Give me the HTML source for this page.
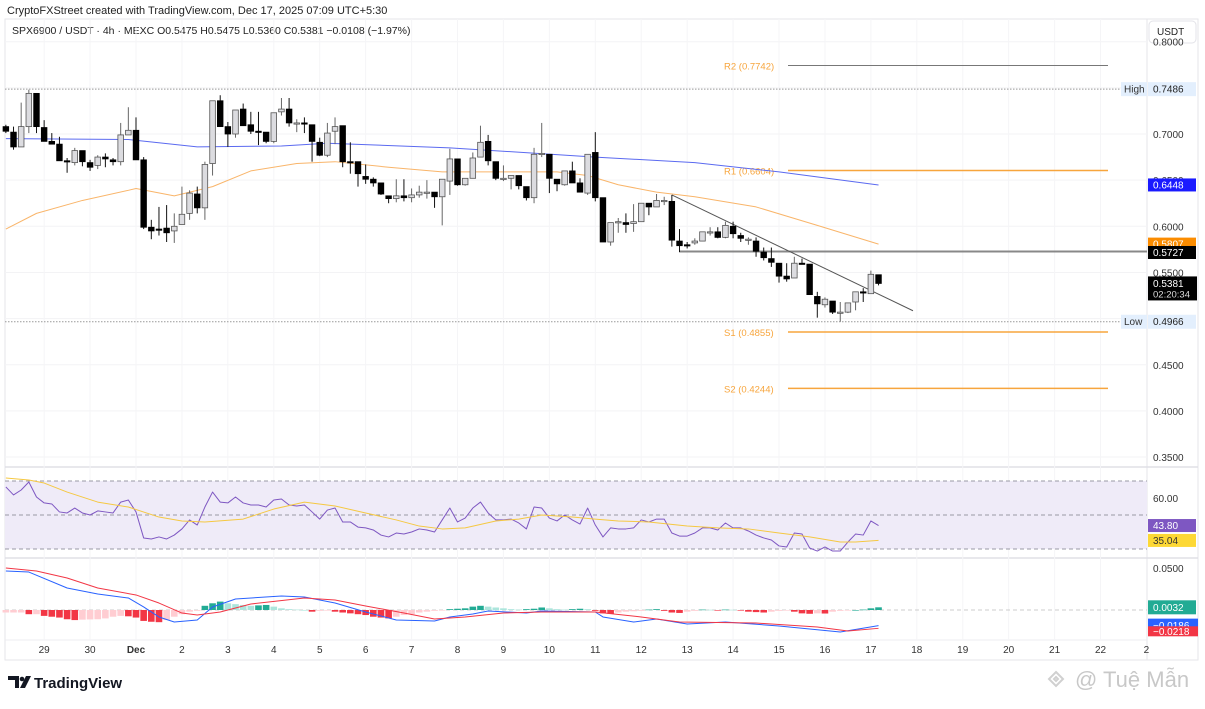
<!DOCTYPE html>
<html><head><meta charset="utf-8">
<style>
html,body{margin:0;padding:0;background:#fff;}
body{width:1205px;height:704px;overflow:hidden;font-family:"Liberation Sans",sans-serif;}
svg text{font-family:"Liberation Sans",sans-serif;}
</style></head>
<body>
<svg id="chart" width="1205" height="704" viewBox="0 0 1205 704" xmlns="http://www.w3.org/2000/svg">
  <text x="7" y="14" font-size="11" fill="#222">CryptoFXStreet created with TradingView.com, Dec 17, 2025 07:09 UTC+5:30</text>
  <rect x="5" y="19" width="1193" height="641" fill="none" stroke="#e6e6ea" stroke-width="1"/>
  <text x="12" y="34" font-size="10.5" fill="#222">SPX6900 / USDT · 4h · MEXC  O0.5475  H0.5475  L0.5360  C0.5381  −0.0108 (−1.97%)</text>
  <rect x="1149" y="21" width="47" height="22" rx="4" fill="#fff" stroke="#e3e3e8"/>
  <text x="1157" y="35" font-size="10" fill="#222">USDT</text>
  <line x1="1147" y1="19" x2="1147" y2="660" stroke="#e6e6ea"/>
  <line x1="5" y1="467" x2="1198" y2="467" stroke="#e0e0e6" stroke-width="1.5"/>
  <line x1="5" y1="558" x2="1198" y2="558" stroke="#e0e0e6" stroke-width="1.5"/>
  <line x1="5" y1="640" x2="1147" y2="640" stroke="#ececf0"/>
  <g id="grid"></g>
  <g id="levels"></g>
  <g id="ma"></g>
  <g id="candles"></g>
  <g id="rsi"></g>
  <g id="macd"></g>
  <g id="axes"></g>
  <g>
    <path d="M8 676 h11 v12 h-4 v-8 h-7 z" fill="#131722"/>
    <circle cx="22" cy="679" r="2.3" fill="#131722"/>
    <path d="M26 676 h5 l-6 12 h-5 z" fill="#131722"/>
    <text x="34" y="688" font-size="15" font-weight="bold" fill="#131722">TradingView</text>
  </g>
  <text x="1075" y="687" font-size="22" fill="#c8c8c8">@ Tuệ Mẫn</text>
  <g fill="none" stroke="#d0d0d0" stroke-width="2">
    <path d="M1056 672 l7 7 -7 7 -7 -7 z"/>
    <path d="M1056 677 l2 2 -2 2 -2 -2 z"/>
  </g>
</svg>
<script>
const NS='http://www.w3.org/2000/svg';
// ===== data =====
const opens=[.708,.702,.686,.708,.744,.707,.692,.689,.671,.669,.682,.669,.666,.675,.672,.670,.699,.704,.672,.599,.597,.598,.595,.602,.614,.635,.620,.668,.736,.708,.700,.727,.710,.703,.702,.692,.724,.727,.712,.712,.710,.691,.677,.703,.709,.670,.670,.654,.651,.647,.633,.630,.633,.631,.634,.637,.637,.632,.649,.673,.645,.652,.675,.692,.670,.652,.652,.655,.643,.631,.679,.678,.651,.645,.660,.647,.636,.680,.631,.583,.605,.604,.603,.605,.625,.621,.628,.627,.584,.580,.582,.584,.594,.594,.588,.600,.590,.586,.584,.572,.565,.560,.546,.544,.560,.559,.524,.515,.519,.507,.507,.518,.529,.527,.5475];
const highs=[.710,.708,.734,.748,.744,.715,.701,.697,.674,.685,.682,.672,.677,.679,.674,.712,.729,.718,.675,.607,.621,.623,.614,.643,.639,.643,.670,.736,.742,.713,.726,.733,.724,.724,.702,.723,.739,.739,.716,.718,.710,.696,.712,.718,.709,.691,.670,.667,.653,.647,.633,.651,.651,.641,.644,.650,.637,.651,.684,.673,.652,.680,.709,.699,.670,.666,.655,.655,.643,.685,.712,.678,.651,.660,.670,.652,.678,.702,.631,.604,.609,.614,.624,.625,.625,.635,.632,.634,.597,.583,.587,.594,.599,.599,.605,.605,.593,.588,.588,.577,.577,.560,.560,.567,.565,.559,.529,.523,.519,.518,.517,.529,.533,.552,.5475];
const lows=[.701,.683,.686,.701,.701,.692,.689,.671,.658,.666,.665,.660,.662,.664,.666,.666,.699,.672,.597,.586,.590,.583,.582,.602,.607,.614,.607,.655,.708,.686,.696,.709,.700,.688,.690,.690,.720,.708,.702,.701,.670,.676,.675,.689,.664,.657,.643,.646,.643,.634,.625,.626,.627,.626,.631,.630,.620,.601,.634,.644,.644,.652,.675,.666,.650,.649,.640,.640,.628,.625,.675,.636,.638,.644,.647,.637,.634,.627,.583,.579,.593,.593,.594,.605,.612,.621,.623,.578,.572,.576,.580,.584,.590,.587,.587,.587,.583,.580,.567,.563,.556,.539,.540,.544,.559,.526,.501,.512,.505,.4966,.506,.509,.518,.527,.536];
const closes=[.703,.686,.708,.744,.708,.692,.689,.671,.670,.682,.670,.664,.675,.673,.670,.699,.704,.672,.599,.595,.596,.593,.600,.613,.636,.620,.667,.736,.708,.700,.726,.709,.703,.702,.692,.723,.727,.712,.712,.711,.692,.677,.701,.708,.670,.669,.657,.651,.647,.635,.630,.633,.631,.634,.637,.637,.632,.651,.673,.645,.652,.674,.691,.671,.652,.652,.655,.644,.631,.678,.679,.652,.646,.660,.647,.637,.678,.631,.583,.604,.605,.602,.605,.625,.621,.628,.628,.585,.579,.579,.584,.594,.594,.588,.601,.592,.587,.586,.573,.566,.561,.546,.543,.560,.559,.526,.516,.521,.507,.507,.517,.529,.528,.548,.5381];
const ma200Idx=[0,16,25,36,42,58,77,90,101,114];
const ma200Val=[.695,.694,.686,.687,.690,.685,.675,.669,.659,.6448];
const ma50Idx=[0,4,10,16,17,22,27,32,38,43,50,57,65,72,76,80,85,90,98,106,114];
const ma50Val=[.597,.614,.628,.639,.641,.633,.643,.660,.668,.670,.664,.659,.659,.659,.655,.645,.637,.632,.621,.601,.5807];
const priceTicks=[0.35,0.40,0.45,0.50,0.55,0.60,0.65,0.70,0.75,0.80];
const dayLabels=['29','30','Dec','2','3','4','5','6','7','8','9','10','11','12','13','14','15','16','17','18','19','20','21','22','2'];
const dayNums=[-1,0,1,2,3,4,5,6,7,8,9,10,11,12,13,14,15,16,17,18,19,20,21,22,23];
const pivotNames=['R2','R1','S1','S2'];
const pivotVals=[0.7742,0.6604,0.4855,0.4244];
const highVal=0.7486, lowVal=0.4966, hlineVal=0.5727;
const trendStart=[87,0.634], trendEnd=[118.5,0.5085];
const rsi=[66.5,61.8,64.7,69.4,60.6,57.1,56.5,51.8,51.2,54.1,51.2,50.0,52.4,51.8,51.2,57.6,58.8,51.8,36.5,35.9,37.1,35.9,38.2,41.8,47.1,44.1,54.7,63.5,57.6,57.1,60.6,57.1,55.9,55.9,54.7,58.8,59.4,55.9,55.3,55.9,51.8,47.6,52.9,54.1,45.9,45.9,42.9,42.4,41.2,38.2,37.1,39.4,38.8,40.0,41.8,41.2,40.0,47.1,54.1,45.9,48.2,54.1,57.6,51.2,47.1,47.1,47.6,45.3,41.8,54.7,54.1,48.2,46.5,50.0,47.1,44.7,54.1,44.1,37.1,42.4,41.8,41.8,42.4,47.1,45.9,47.6,47.6,39.4,37.6,37.6,39.4,42.4,42.4,41.2,45.3,42.4,42.4,40.6,38.2,36.5,35.3,31.8,31.2,39.4,38.8,30.6,28.8,31.2,28.8,28.8,34.1,38.8,38.2,46.5,43.8];
const rsiMaIdx=[0,3,5,8,12,16,20,23,26,31,35,39,43,47,51,54,57,60,64,67,70,74,77,80,84,89,93,97,101,105,109,111,114];
const rsiMaVal=[71.8,70.6,68.8,63.5,57.6,54.7,48.8,46.5,45.9,47.6,53.5,57.6,55.3,51.2,47.1,43.5,41.8,42.4,46.5,47.6,50.0,48.8,47.6,46.5,45.9,43.5,42.4,41.8,39.4,37.1,34.1,34.1,35.04];
const macdIdx=[0,3,8,12,16,18,20,22,25,27,30,36,39,43,47,51,56,58,61,63,68,70,77,78,82,85,89,94,101,109,114];
const macdVal=[.0464,.0452,.0262,.0190,.0143,.0036,-.0083,-.0143,-.0119,.0036,.0131,.0167,.0155,.0083,-.0024,-.0119,-.0131,-.0083,-.0048,-.0012,-.0036,-.0012,-.0024,-.0083,-.0143,-.0107,-.0167,-.0143,-.0190,-.0262,-.0186];
const sigIdx=[0,4,8,12,17,20,23,25,28,32,39,43,47,52,56,60,65,70,77,83,88,98,106,110,114];
const sigVal=[.050,.0464,.0381,.0262,.0179,.0083,-.0036,-.0060,-.0024,.0071,.0143,.0119,.0048,-.0036,-.0107,-.0083,-.0036,-.0024,-.0024,-.0083,-.0143,-.0155,-.0202,-.0250,-.0218];
const hist=[-.003,-.003,-.003,-.005,-.005,-.007,-.008,-.009,-.011,-.012,-.0115,-.0112,-.011,-.010,-.008,-.007,-.0075,-.009,-.013,-.014,-.0145,-.012,-.008,-.005,-.002,-.001,.005,.008,.010,.008,.007,.006,.005,.0055,.006,.004,.002,.001,.0005,0,-.002,-.001,-.0005,-.002,-.003,-.004,-.005,-.006,-.008,-.009,-.010,-.008,-.006,-.005,-.003,-.002,-.001,-.0005,.001,.0015,.002,.004,.005,.004,.003,.002,.001,.0005,.001,.0015,.003,.002,.001,.0005,.001,.0015,.001,-.001,-.004,-.0045,-.003,-.002,-.0015,-.001,.0005,.001,-.001,-.003,-.0035,-.002,-.001,.0005,.0003,-.0005,.0005,.0003,-.0005,-.002,-.0025,-.003,-.002,-.001,-.0005,-.002,-.004,-.0045,-.004,-.0042,-.002,-.001,-.0005,0,.0005,.002,.0032];

// ===== scales =====
const yP=p=>134+(0.7-p)*923;
const xI=i=>136+(i-17)*7.655;
const xD=d=>136+(d-1)*45.93;
const yR=v=>481+(70-v)*1.7;
const yM=v=>610-v*840;

function mk(tag,attrs,parent){const e=document.createElementNS(NS,tag);for(const k in attrs)e.setAttribute(k,attrs[k]);parent.appendChild(e);return e;}
const G=id=>document.getElementById(id);

// grid
const grid=G('grid');
priceTicks.forEach(p=>{const y=yP(p);if(y<40||y>462)return;
  const l=mk('line',{x1:5,x2:1147,y1:y,y2:y,stroke:'#f3f3f5'},grid);
  
  
});
dayNums.forEach(d=>{const x=xD(d);if(x>1146)return;
  const l=mk('line',{x1:x,x2:x,y1:19,y2:640,stroke:'#f5f5f7'},grid);
  
  
});

// axes labels
const axes=G('axes');
priceTicks.forEach(p=>{const y=yP(p);if(y<40||y>462)return;
  const t=mk('text',{x:1153,y:y+4,'font-size':10,fill:'#333'},axes);t.textContent=p.toFixed(4);
  
  
});
dayLabels.forEach((s,k)=>{const x=xD(dayNums[k]);
  const t=mk('text',{x:x,y:653,'font-size':10,fill:'#333','text-anchor':'middle','font-weight':s==='Dec'?'bold':'normal'},axes);t.textContent=s;
  
  
});
function tag(y,h,bg,fg,txt,name,x,w){
  const r=mk('rect',{x:x||1148,y:y-h/2,width:w||48,height:h,fill:bg},axes);
  
  
  const t=mk('text',{x:(x||1148)+5,y:y+3.5,'font-size':10,fill:fg},axes);t.textContent=txt;
  
  
  return t;
}
const rsiTick=mk('text',{x:1153,y:yR(60)+4,'font-size':10,fill:'#333'},axes);rsiTick.textContent='60.00';


const mTick=mk('text',{x:1153,y:yM(0.05)+4,'font-size':10,fill:'#333'},axes);mTick.textContent='0.0500';



// levels
const lv=G('levels');
function hl(y,x1,x2,stroke,w,dash,name){const l=mk('line',{x1,x2,y1:y,y2:y,stroke,'stroke-width':w},lv);if(dash)l.setAttribute('stroke-dasharray',dash);
  
  
}
hl(yP(highVal),5,1120,'#999',1,'1.5 1.5','high-line');
hl(yP(lowVal),5,1120,'#999',1,'1.5 1.5','low-line');
pivotVals.forEach((v,k)=>{const y=yP(v);
  hl(y,788,1108,k===0?'#777':'#f7a53d',k===0?1:1.5,null,'pivot-'+pivotNames[k].toLowerCase()+'-line');
  const t=mk('text',{x:724,y:y+4,'font-size':9.5,fill:'#f7a53d'},lv);t.textContent=pivotNames[k]+' ('+v.toFixed(4)+')';
  
  
});
hl(yP(hlineVal),xI(88),1147,'#888',2,null,'resistance-line');
const tl=mk('line',{x1:xI(trendStart[0]),y1:yP(trendStart[1]),x2:xI(trendEnd[0]),y2:yP(trendEnd[1]),stroke:'#555','stroke-width':1},lv);


[['High',highVal],['Low',lowVal]].forEach(([n,v])=>{const y=yP(v);
  const r=mk('rect',{x:1121,y:y-7,width:26,height:14,fill:'#e3effd'},lv);
  
  
  const t=mk('text',{x:1124,y:y+3.5,'font-size':10,fill:'#333'},lv);t.textContent=n;
  
  
});

// moving averages
const ma=G('ma');
function poly(idx,vals,xf,yf,color,w,parent){return mk('polyline',{points:idx.map((i,k)=>xf(i)+','+yf(vals[k])).join(' '),fill:'none',stroke:color,'stroke-width':w,'stroke-linejoin':'round'},parent);}
const m200=poly(ma200Idx,ma200Val,xI,yP,'#5b6af0',1,ma);


const m50=poly(ma50Idx,ma50Val,xI,yP,'#f9b56a',1,ma);



// candles
const cg=G('candles');
opens.forEach((o,i)=>{const c=closes[i],up=c>=o,x=xI(i);
  const w=mk('line',{x1:x,x2:x,y1:yP(highs[i]),y2:yP(lows[i]),stroke:up?'#666':'#111','stroke-width':1},cg);
  
  
  const top=yP(Math.max(o,c)),bot=yP(Math.min(o,c));
  const b=mk('rect',{x:x-2.8,y:top,width:5.6,height:Math.max(1.2,bot-top),fill:up?'#dcdce0':'#000',stroke:up?'#555':'#000','stroke-width':0.8},cg);
  
  
});

// price tags
tag(yP(highVal),14,'#e3effd','#222',highVal.toFixed(4),'high');
tag(yP(lowVal),14,'#e3effd','#222',lowVal.toFixed(4),'low');
tag(yP(ma200Val[ma200Val.length-1]),13,'#1a1aff','#fff',ma200Val[ma200Val.length-1].toFixed(4),'ma200');
tag(yP(ma50Val[ma50Val.length-1]),13,'#fb8c00','#fff',ma50Val[ma50Val.length-1].toFixed(4),'ma50');
tag(yP(hlineVal)+1,13,'#000','#fff',hlineVal.toFixed(4),'resistance');
const lastC=closes[closes.length-1];
const lr=mk('rect',{x:1148,y:yP(lastC)-7,width:49,height:24,fill:'#000'},axes);


const lt=mk('text',{x:1153,y:yP(lastC)+3.5,'font-size':10,fill:'#fff'},axes);lt.textContent=lastC.toFixed(4);


const ct=mk('text',{x:1153,y:yP(lastC)+14,'font-size':9.5,fill:'#ddd'},axes);ct.textContent='02:20:34';



// RSI
const rg=G('rsi');
const band=mk('rect',{x:5,y:yR(70),width:1142,height:yR(30)-yR(70),fill:'#efebf8'},rg);


[70,50,30].forEach(v=>{const l=mk('line',{x1:5,x2:1147,y1:yR(v),y2:yR(v),stroke:'#9a9aa5','stroke-dasharray':'4 3','stroke-width':1},rg);
  
  
});
const rl=poly(rsi.map((_,i)=>i),rsi,xI,yR,'#7e57c2',1,rg);


const rml=poly(rsiMaIdx,rsiMaVal,xI,yR,'#f5c842',1,rg);


tag(yR(rsi[rsi.length-1]),13,'#7e57c2','#fff',rsi[rsi.length-1].toFixed(2),'rsi');
tag(yR(rsiMaVal[rsiMaVal.length-1]),13,'#fdd835','#333',rsiMaVal[rsiMaVal.length-1].toFixed(2),'rsi-ma');

// MACD
const mg=G('macd');
const z=mk('line',{x1:5,x2:1147,y1:yM(0),y2:yM(0),stroke:'#ccc','stroke-dasharray':'4 3'},mg);


hist.forEach((v,i)=>{const p=i>0?hist[i-1]:v;let col;
  if(v<0)col=v<p?'#f23645':'#ffcdd2';else col=v>p?'#22ab94':'#ace5dc';
  const y0=yM(0),y1=yM(v);
  const r=mk('rect',{x:xI(i)-3.3,y:Math.min(y0,y1),width:6.6,height:Math.max(0.6,Math.abs(y1-y0)),fill:col},mg);
  
  
});
const ml=poly(macdIdx,macdVal,xI,yM,'#2962ff',1,mg);


const sl=poly(sigIdx,sigVal,xI,yM,'#f23645',1,mg);


tag(yM(hist[hist.length-1]),14,'#22ab94','#fff',hist[hist.length-1].toFixed(4),'histogram');
tag(yM(macdVal[macdVal.length-1]),14,'#2962ff','#fff','−'+Math.abs(macdVal[macdVal.length-1]).toFixed(4),'macd',1148,50);
tag(yM(sigVal[sigVal.length-1])+3,10,'#f23645','#fff','−'+Math.abs(sigVal[sigVal.length-1]).toFixed(4),'signal',1148,50);
</script>
</body></html>
